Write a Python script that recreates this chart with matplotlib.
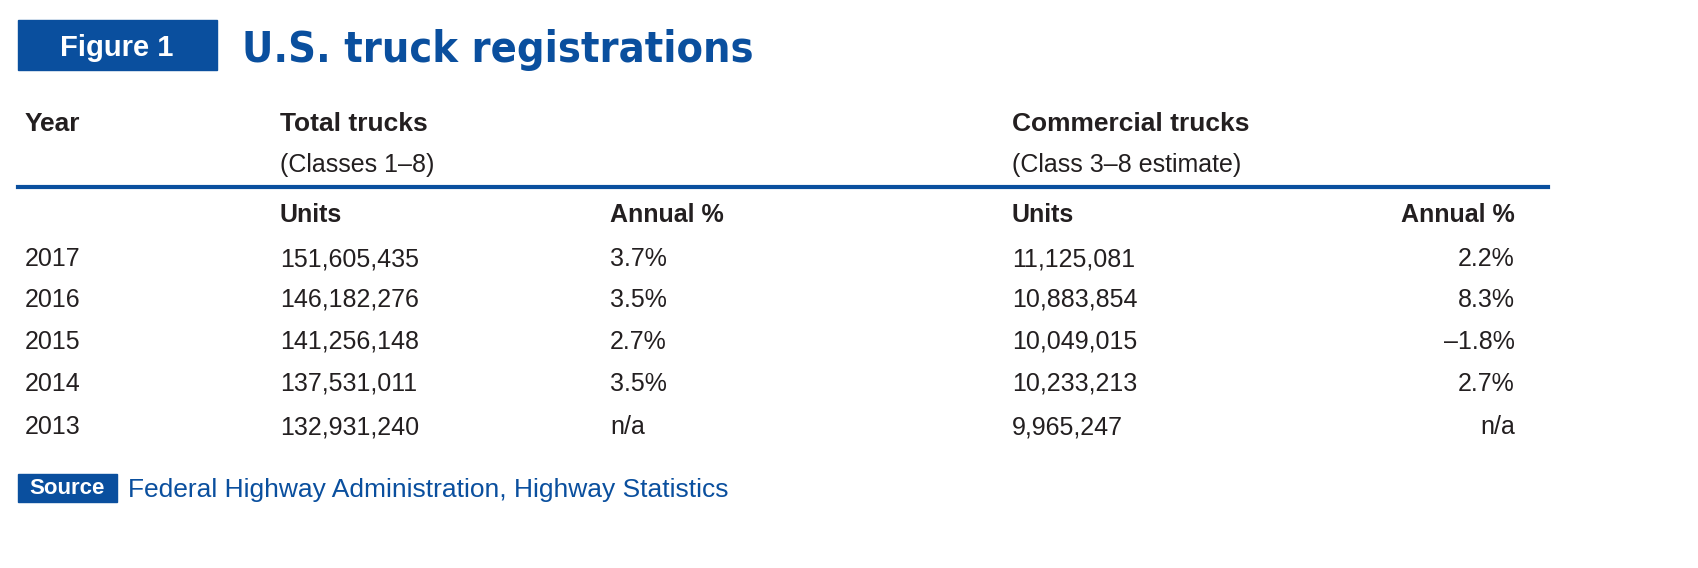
import matplotlib
matplotlib.use("Agg")
import matplotlib.pyplot as plt
from matplotlib.patches import Rectangle

years = ["2017", "2016", "2015", "2014", "2013"]
total_units = ["151,605,435", "146,182,276", "141,256,148", "137,531,011", "132,931,240"]
total_pct = ["3.7%", "3.5%", "2.7%", "3.5%", "n/a"]
comm_units = ["11,125,081", "10,883,854", "10,049,015", "10,233,213", "9,965,247"]
comm_pct = ["2.2%", "8.3%", "\u20131.8%", "2.7%", "n/a"]

W, H = 1698, 568
BLUE = "#0a4f9e"
fig = plt.figure(figsize=(W/100, H/100), dpi=100)
ax = fig.add_axes([0, 0, 1, 1])
ax.set_xlim(0, W); ax.set_ylim(H, 0); ax.axis("off")
F = "Liberation Sans"

ax.add_patch(Rectangle((18, 20), 199, 50, color=BLUE))
ax.text(117, 56, "Figure 1", color="white", fontsize=21, fontweight="bold", ha="center", va="baseline", family=F)
ax.text(242, 62, "U.S. truck registrations", color=BLUE, fontsize=31, fontweight="bold",
        ha="left", va="baseline", family="DejaVu Sans", fontstretch="condensed")

def t(x, y, s, bold=False, ha="left", size=18):
    ax.text(x, y + 9, s, fontsize=size, fontweight="bold" if bold else "normal", ha=ha, va="baseline",
            family=F, color="#231f20")

t(25, 122, "Year", True, size=19)
t(280, 122, "Total trucks", True, size=19)
t(1012, 122, "Commercial trucks", True, size=19)
t(280, 163, "(Classes 1\u20138)")
t(1012, 163, "(Class 3\u20138 estimate)")
ax.plot([18, 1548], [187, 187], color=BLUE, lw=3)
t(280, 213, "Units", True)
t(610, 213, "Annual %", True)
t(1012, 213, "Units", True)
t(1515, 213, "Annual %", True, ha="right")

ys = [257, 298, 340, 382, 425]
for i, y in enumerate(ys):
    t(25, y, years[i])
    t(280, y, total_units[i])
    t(610, y, total_pct[i])
    t(1012, y, comm_units[i])
    t(1515, y, comm_pct[i], ha="right")

ax.add_patch(Rectangle((18, 474), 99, 28, color=BLUE))
ax.text(67, 494, "Source", color="white", fontsize=16, fontweight="bold", ha="center", va="baseline", family=F)
ax.text(128, 497, "Federal Highway Administration, Highway Statistics", color=BLUE, fontsize=19,
        ha="left", va="baseline", family=F)

fig.savefig("out.png", dpi=100, facecolor="white")
